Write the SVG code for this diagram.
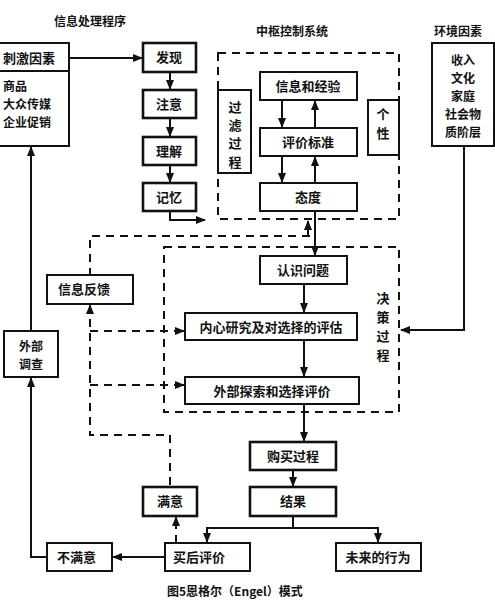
<svg xmlns="http://www.w3.org/2000/svg" width="495" height="612" viewBox="0 0 495 612">
<defs>
<marker id="ah" viewBox="0 0 10 10" refX="9" refY="5" markerWidth="5" markerHeight="5" orient="auto-start-reverse">
<path d="M0,1 L10,5 L0,9 z" fill="#111"/>
</marker>
<style>
.b{fill:#fff;stroke:#111;stroke-width:2}
.bt{fill:#fff;stroke:#111;stroke-width:2.6}
.t{font-family:"Noto Sans CJK SC","Noto Sans",sans-serif;font-size:13px;font-weight:bold;fill:#111}
.s{font-size:12px}
.ti{font-family:"Noto Sans CJK SC","Noto Sans",sans-serif;font-size:12px;font-weight:bold;fill:#111}
.c{text-anchor:middle}
.ln{fill:none;stroke:#111;stroke-width:2}
.dl{fill:none;stroke:#111;stroke-width:2;stroke-dasharray:8,6}
</style>
</defs>
<rect width="495" height="612" fill="#fff"/>

<g id="titles">
<text class="ti c" x="90" y="26">信息处理程序</text>
<text class="ti c" x="292" y="36">中枢控制系统</text>
<text class="ti c" x="458" y="36">环境因素</text>
</g>

<g id="dashed-frames">
<rect class="dl" x="218" y="53" width="181" height="166"/>
<rect class="dl" x="164" y="247" width="235" height="165"/>
</g>

<g id="connectors">
<line class="ln" x1="69" y1="58" x2="142" y2="58" marker-end="url(#ah)"/>
<line class="ln" x1="170" y1="72" x2="170" y2="89" marker-end="url(#ah)"/>
<line class="ln" x1="170" y1="118" x2="170" y2="136" marker-end="url(#ah)"/>
<line class="ln" x1="170" y1="165" x2="170" y2="182" marker-end="url(#ah)"/>
<polyline class="ln" points="170,211 170,220 205,220" marker-end="url(#ah)"/>
<line class="ln" x1="282" y1="100" x2="282" y2="127" marker-end="url(#ah)"/>
<line class="ln" x1="315" y1="128" x2="315" y2="101" marker-end="url(#ah)"/>
<line class="ln" x1="282" y1="156" x2="282" y2="182" marker-end="url(#ah)"/>
<line class="ln" x1="315" y1="183" x2="315" y2="157" marker-end="url(#ah)"/>
<line class="ln" x1="315" y1="211" x2="315" y2="255" marker-end="url(#ah)"/>
<polyline class="ln" points="464,146 464,330 401,330" marker-end="url(#ah)"/>
<line class="ln" x1="304" y1="284" x2="304" y2="312" marker-end="url(#ah)"/>
<line class="ln" x1="304" y1="340" x2="304" y2="376" marker-end="url(#ah)"/>
<line class="ln" x1="304" y1="404" x2="304" y2="441" marker-end="url(#ah)"/>
<line class="ln" x1="293" y1="470" x2="293" y2="486" marker-end="url(#ah)"/>
<line class="ln" x1="293" y1="516" x2="293" y2="528"/>
<polyline class="ln" points="207,542 207,528 378,528 378,542" marker-start="url(#ah)" marker-end="url(#ah)"/>
<line class="ln" x1="165" y1="557" x2="113" y2="557" marker-end="url(#ah)"/>
<polyline class="ln" points="47,557 31,557 31,378" marker-end="url(#ah)"/>
<line class="ln" x1="31" y1="331" x2="31" y2="147" marker-end="url(#ah)"/>
<polyline class="dl" points="310,236 90,236 90,275"/>
<line class="ln" x1="308" y1="236" x2="308" y2="221" marker-end="url(#ah)"/>
<polyline class="dl" points="90,305 90,435 170,435 170,487"/>
<line class="ln" x1="90" y1="312" x2="90" y2="305" marker-end="url(#ah)"/>
<line class="dl" x1="90" y1="331" x2="176" y2="331"/>
<line class="ln" x1="176" y1="331" x2="184" y2="331" marker-end="url(#ah)"/>
<line class="dl" x1="90" y1="385" x2="176" y2="385"/>
<line class="ln" x1="176" y1="385" x2="184" y2="385" marker-end="url(#ah)"/>
<line class="dl" x1="176" y1="543" x2="176" y2="524"/>
<line class="ln" x1="176" y1="524" x2="176" y2="517" marker-end="url(#ah)"/>
</g>

<g id="stimulus">
<rect class="b" x="-2" y="43" width="71" height="103"/>
<line class="ln" x1="-2" y1="71" x2="69" y2="71"/>
<text class="t" x="3" y="63">刺激因素</text>
<text class="t s" x="3" y="91">商品</text>
<text class="t s" x="3" y="109">大众传媒</text>
<text class="t s" x="3" y="127">企业促销</text>
</g>

<g id="n-faxian"><rect class="bt" x="143" y="43" width="53" height="29"/><text class="t c" x="169" y="62">发现</text></g>
<g id="n-zhuyi"><rect class="bt" x="143" y="90" width="53" height="28"/><text class="t c" x="169" y="109">注意</text></g>
<g id="n-lijie"><rect class="bt" x="143" y="137" width="53" height="28"/><text class="t c" x="169" y="156">理解</text></g>
<g id="n-jiyi"><rect class="bt" x="143" y="183" width="53" height="28"/><text class="t c" x="169" y="202">记忆</text></g>

<g id="n-guolv"><rect class="b" x="218" y="90" width="33" height="83"/>
<text class="t c" x="235" y="112">过</text><text class="t c" x="235" y="130">滤</text><text class="t c" x="235" y="148">过</text><text class="t c" x="235" y="167">程</text></g>
<g id="n-xinxi"><rect class="b" x="260" y="72" width="97" height="28"/><text class="t c" x="308" y="91">信息和经验</text></g>
<g id="n-pingjia"><rect class="b" x="260" y="128" width="97" height="28"/><text class="t c" x="308" y="147">评价标准</text></g>
<g id="n-taidu"><rect class="b" x="260" y="183" width="97" height="28"/><text class="t c" x="308" y="202">态度</text></g>
<g id="n-gexing"><rect class="b" x="368" y="100" width="31" height="55"/>
<text class="t c" x="383" y="119">个</text><text class="t c" x="383" y="138">性</text></g>

<g id="environment">
<rect class="b" x="432" y="43" width="62" height="103"/>
<text class="t s c" x="463" y="65">收入</text>
<text class="t s c" x="463" y="83">文化</text>
<text class="t s c" x="463" y="101">家庭</text>
<text class="t s c" x="463" y="119">社会物</text>
<text class="t s c" x="463" y="137">质阶层</text>
</g>

<g id="n-renshi"><rect class="b" x="260" y="256" width="87" height="28"/><text class="t c" x="303" y="275">认识问题</text></g>
<g id="n-neixin"><rect class="b" x="185" y="313" width="172" height="27"/><text class="t c" x="271" y="332">内心研究及对选择的评估</text></g>
<g id="n-waibu"><rect class="b" x="185" y="377" width="174" height="27"/><text class="t c" x="272" y="396">外部探索和选择评价</text></g>
<g id="n-juece"><text class="t c" x="383" y="303">决</text><text class="t c" x="383" y="322">策</text><text class="t c" x="383" y="341">过</text><text class="t c" x="383" y="360">程</text></g>

<g id="n-fankui"><rect class="b" x="47" y="275" width="86" height="29"/><text class="t" x="58" y="294">信息反馈</text></g>
<g id="n-diaocha"><rect class="b" x="4" y="331" width="54" height="46"/><text class="t s c" x="31" y="351">外部</text><text class="t s c" x="31" y="369">调查</text></g>

<g id="n-goumai"><rect class="bt" x="250" y="442" width="86" height="28"/><text class="t c" x="293" y="461">购买过程</text></g>
<g id="n-jieguo"><rect class="bt" x="250" y="487" width="86" height="29"/><text class="t c" x="293" y="506">结果</text></g>
<g id="n-manyi"><rect class="bt" x="143" y="487" width="54" height="29"/><text class="t c" x="170" y="506">满意</text></g>
<g id="n-maihou"><rect class="b" x="165" y="543" width="85" height="28"/><text class="t" x="173" y="562">买后评价</text></g>
<g id="n-buman"><rect class="b" x="47" y="543" width="65" height="28"/><text class="t" x="57" y="562">不满意</text></g>
<g id="n-weilai"><rect class="b" x="336" y="543" width="85" height="28"/><text class="t c" x="378" y="562">未来的行为</text></g>

<text class="ti" x="167" y="596">图5恩格尔（Engel）模式</text>
</svg>
